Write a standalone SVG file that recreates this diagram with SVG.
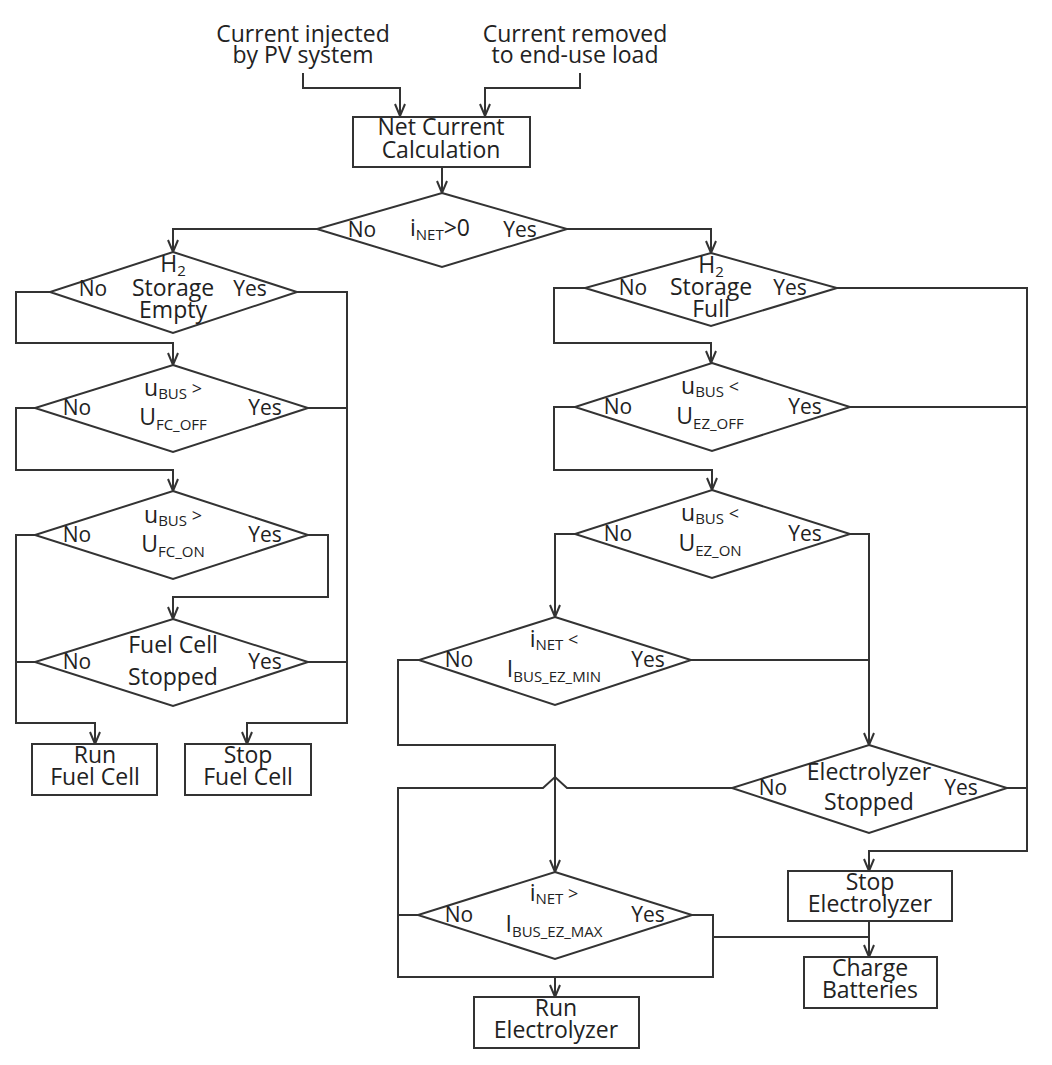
<svg xmlns="http://www.w3.org/2000/svg" width="1052" height="1065" viewBox="0 0 1052 1065">
<style>
.t{font-family:"Open Sans","Liberation Sans",sans-serif;font-size:23px;fill:#222;text-anchor:middle}
.yn{font-size:21px}
.sub{font-size:15px}
.shape{fill:#fff;stroke:#333;stroke-width:2}
.c{fill:none;stroke:#333;stroke-width:2}
</style>
<defs>
<marker id="ar" viewBox="-13 -7 15 14" refX="0" refY="0" markerWidth="15" markerHeight="14" markerUnits="userSpaceOnUse" orient="auto">
<path d="M-12,-5 L0,0 L-12,5" fill="none" stroke="#333" stroke-width="2"/>
</marker>
</defs>
<rect width="1052" height="1065" fill="#fff"/>
<g id="connectors">
<path class="c" d="M303,73 V88 H400 V116" marker-end="url(#ar)"/>
<path class="c" d="M580,73 V88 H485 V116" marker-end="url(#ar)"/>
<path class="c" d="M442,167 V193" marker-end="url(#ar)"/>
<path class="c" d="M317,229 H173 V252" marker-end="url(#ar)"/>
<path class="c" d="M567,229 H711 V253" marker-end="url(#ar)"/>
<path class="c" d="M50,292 H16 V343 H173 V365" marker-end="url(#ar)"/>
<path class="c" d="M297,292 H347 V723 H247 V744" marker-end="url(#ar)"/>
<path class="c" d="M308,408 H347"/>
<path class="c" d="M35,408 H16 V470 H173 V491" marker-end="url(#ar)"/>
<path class="c" d="M308,535 H328 V597 H173 V619" marker-end="url(#ar)"/>
<path class="c" d="M35,535 H16 V723 H95 V744" marker-end="url(#ar)"/>
<path class="c" d="M35,662 H16"/>
<path class="c" d="M308,662 H347"/>
<path class="c" d="M585,288 H554 V343 H711 V363" marker-end="url(#ar)"/>
<path class="c" d="M837,288 H1027 V851 H869 V871" marker-end="url(#ar)"/>
<path class="c" d="M850,407 H1027"/>
<path class="c" d="M575,407 H554 V470 H712 V490" marker-end="url(#ar)"/>
<path class="c" d="M850,534 H869 V745" marker-end="url(#ar)"/>
<path class="c" d="M575,534 H555 V617" marker-end="url(#ar)"/>
<path class="c" d="M691,660 H869"/>
<path class="c" d="M419,660 H398 V745 H555 V872" marker-end="url(#ar)"/>
<path class="c" d="M732,788 H567 L555,777 L543,788 H398 V977 H713 V915 H692"/>
<path class="c" d="M418,915 H398"/>
<path class="c" d="M555,977 V997" marker-end="url(#ar)"/>
<path class="c" d="M713,937 H869"/>
<path class="c" d="M869,921 V957" marker-end="url(#ar)"/>
<path class="c" d="M1007,788 H1027"/>
</g>
<g id="src-pv">
<text class="t" x="303" y="42">Current injected</text>
<text class="t" x="303" y="63">by PV system</text>
</g>
<g id="src-load">
<text class="t" x="575" y="42">Current removed</text>
<text class="t" x="575" y="63">to end-use load</text>
</g>
<g id="net-current">
<rect class="shape" x="353" y="117" width="177" height="50"/>
<text class="t" x="441" y="135">Net Current</text>
<text class="t" x="441" y="158">Calculation</text>
</g>
<g id="d-inet0">
<polygon class="shape" points="442,193 567,229 442,267 317,229"/>
<text class="t" x="440" y="236">i<tspan class="sub" dy="4">NET</tspan><tspan dy="-4">&gt;0</tspan></text>
<text class="t yn" x="362" y="237">No</text>
<text class="t yn" x="520" y="237">Yes</text>
</g>
<g id="d-h2empty">
<polygon class="shape" points="173,252 297,292 173,333 50,292"/>
<text class="t" x="173" y="272">H<tspan class="sub" dy="4">2</tspan></text>
<text class="t" x="173" y="296">Storage</text>
<text class="t" x="173" y="318">Empty</text>
<text class="t yn" x="93" y="296">No</text>
<text class="t yn" x="250" y="296">Yes</text>
</g>
<g id="d-fcoff">
<polygon class="shape" points="173,365 308,408 173,452 35,408"/>
<text class="t" x="173" y="396">u<tspan class="sub" dy="3">BUS</tspan><tspan font-size="18" dy="-4"> &gt;</tspan></text>
<text class="t" x="173" y="425">U<tspan class="sub" dy="5">FC_OFF</tspan></text>
<text class="t yn" x="77" y="415">No</text>
<text class="t yn" x="265" y="415">Yes</text>
</g>
<g id="d-fcon">
<polygon class="shape" points="173,491 308,535 173,579 35,535"/>
<text class="t" x="173" y="523">u<tspan class="sub" dy="3">BUS</tspan><tspan font-size="18" dy="-4"> &gt;</tspan></text>
<text class="t" x="173" y="552">U<tspan class="sub" dy="5">FC_ON</tspan></text>
<text class="t yn" x="77" y="542">No</text>
<text class="t yn" x="265" y="542">Yes</text>
</g>
<g id="d-fcstopped">
<polygon class="shape" points="173,619 308,662 173,706 35,662"/>
<text class="t" x="173" y="653">Fuel Cell</text>
<text class="t" x="173" y="685">Stopped</text>
<text class="t yn" x="77" y="669">No</text>
<text class="t yn" x="265" y="669">Yes</text>
</g>
<g id="run-fc">
<rect class="shape" x="32" y="744" width="125" height="51"/>
<text class="t" x="95" y="763">Run</text>
<text class="t" x="95" y="785">Fuel Cell</text>
</g>
<g id="stop-fc">
<rect class="shape" x="185" y="744" width="126" height="51"/>
<text class="t" x="248" y="763">Stop</text>
<text class="t" x="248" y="785">Fuel Cell</text>
</g>
<g id="d-h2full">
<polygon class="shape" points="711,253 837,288 711,326 585,288"/>
<text class="t" x="711" y="273">H<tspan class="sub" dy="4">2</tspan></text>
<text class="t" x="711" y="295">Storage</text>
<text class="t" x="711" y="317">Full</text>
<text class="t yn" x="633" y="295">No</text>
<text class="t yn" x="790" y="295">Yes</text>
</g>
<g id="d-ezoff">
<polygon class="shape" points="712,363 850,407 712,451 575,407"/>
<text class="t" x="710" y="394">u<tspan class="sub" dy="3">BUS</tspan><tspan font-size="18" dy="-4"> &lt;</tspan></text>
<text class="t" x="710" y="424">U<tspan class="sub" dy="5">EZ_OFF</tspan></text>
<text class="t yn" x="618" y="414">No</text>
<text class="t yn" x="805" y="414">Yes</text>
</g>
<g id="d-ezon">
<polygon class="shape" points="712,490 850,534 712,578 575,534"/>
<text class="t" x="710" y="521">u<tspan class="sub" dy="3">BUS</tspan><tspan font-size="18" dy="-4"> &lt;</tspan></text>
<text class="t" x="710" y="551">U<tspan class="sub" dy="5">EZ_ON</tspan></text>
<text class="t yn" x="618" y="541">No</text>
<text class="t yn" x="805" y="541">Yes</text>
</g>
<g id="d-inet-min">
<polygon class="shape" points="555,617 691,660 555,705 419,660"/>
<text class="t" x="554" y="647">i<tspan class="sub" dy="3">NET</tspan><tspan font-size="18" dy="-4"> &lt;</tspan></text>
<text class="t" x="554" y="677">I<tspan class="sub" dy="5">BUS_EZ_MIN</tspan></text>
<text class="t yn" x="459" y="667">No</text>
<text class="t yn" x="648" y="667">Yes</text>
</g>
<g id="d-ezstopped">
<polygon class="shape" points="869,745 1007,788 869,833 732,788"/>
<text class="t" x="869" y="780">Electrolyzer</text>
<text class="t" x="869" y="810">Stopped</text>
<text class="t yn" x="773" y="795">No</text>
<text class="t yn" x="961" y="795">Yes</text>
</g>
<g id="d-inet-max">
<polygon class="shape" points="555,872 692,915 555,959 418,915"/>
<text class="t" x="554" y="901">i<tspan class="sub" dy="3">NET</tspan><tspan font-size="18" dy="-4"> &gt;</tspan></text>
<text class="t" x="554" y="932">I<tspan class="sub" dy="5">BUS_EZ_MAX</tspan></text>
<text class="t yn" x="459" y="922">No</text>
<text class="t yn" x="648" y="922">Yes</text>
</g>
<g id="stop-ez">
<rect class="shape" x="788" y="871" width="164" height="50"/>
<text class="t" x="870" y="890">Stop</text>
<text class="t" x="870" y="912">Electrolyzer</text>
</g>
<g id="charge-bat">
<rect class="shape" x="804" y="957" width="133" height="51"/>
<text class="t" x="870" y="976">Charge</text>
<text class="t" x="870" y="998">Batteries</text>
</g>
<g id="run-ez">
<rect class="shape" x="474" y="997" width="165" height="51"/>
<text class="t" x="556" y="1016">Run</text>
<text class="t" x="556" y="1038">Electrolyzer</text>
</g>
</svg>
